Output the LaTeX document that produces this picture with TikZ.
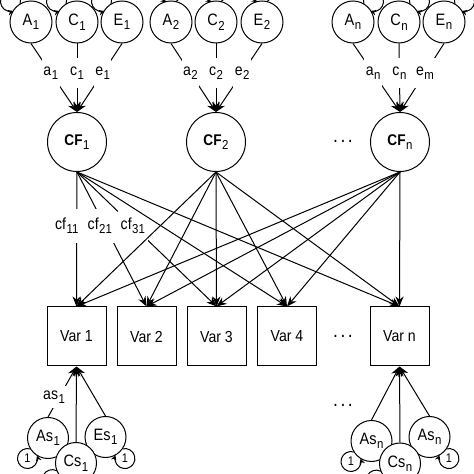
\documentclass[tikz,border=0pt]{standalone}
\usepackage{fontspec}
\setmainfont{Liberation Sans}[FakeStretch=0.88]
\usetikzlibrary{arrows.meta,calc}

\newcommand{\sbs}[1]{\kern0.5pt\raisebox{-4.5pt}{\fontsize{13}{14}\selectfont #1}}
% variance loop: node, angle, sense, name, text
\newcommand{\varloop}[5]{%
  \coordinate (#4c) at ($(#1.center)+(#2:29pt)$);
  \node[unit] (#4) at (#4c) {#5};
  \draw[selfloop] ($(#4c)+({#2+180+28*(#3)}:10pt)$)
    arc[start angle={#2+180+28*(#3)}, end angle={#2+180+332*(#3)}, radius=10pt];
}

\begin{document}
\begin{tikzpicture}[x=1pt,y=1pt,line width=1pt,
  every node/.style={inner sep=0pt,font=\fontsize{16.5}{18}\selectfont},
  lat/.style={circle,draw,minimum size=42pt},
  cf/.style={circle,draw,minimum size=59pt,font=\fontsize{15.5}{17}\selectfont\bfseries},
  var/.style={rectangle,draw,minimum size=59pt,font=\fontsize{16}{18}\selectfont},
  res/.style={circle,draw,fill=white,minimum size=41pt},
  unit/.style={font=\fontsize{12.5}{13}\selectfont},
  dots/.style={font=\fontsize{20}{21}\selectfont},
  coef/.style={fill=white,inner sep=1.5pt,minimum height=30pt,font=\fontsize{16}{18}\selectfont},
  cfl/.style={coef,pos=.4,minimum height=34pt,minimum width=30pt},
  load/.style={-{Stealth[length=10pt,width=8pt]}},
  selfloop/.style={-{Stealth[open,length=5.5pt,width=5.5pt]}}]
\useasboundingbox (0,0) rectangle (474,474);
\clip (0,0) rectangle (474,474);

% twin factors
\node[lat](A1) at (31,452){A\sbs{1}};
\node[lat](C1) at (77,452){C\sbs{1}};
\node[lat](E1) at (122,452){E\sbs{1}};
\node[lat](A2) at (171,452){A\sbs{2}};
\node[lat](C2) at (216,452){C\sbs{2}};
\node[lat](E2) at (262,452){E\sbs{2}};
\node[lat](An) at (353,452){A\sbs{n}};
\node[lat](Cn) at (399,452){C\sbs{n}};
\node[lat](En) at (444,452){E\sbs{n}};

% common factors
\node[cf](CF1) at (77,332){CF\sbs{\mdseries 1}};
\node[cf](CF2) at (216,332){CF\sbs{\mdseries 2}};
\node[cf](CFn) at (400,332){CF\sbs{\mdseries n}};
\node[dots](D1) at (343,333){.\kern2.5pt.\kern2.5pt.};

% observed variables
\node[var](V1) at (76.5,137.5){Var 1};
\node[var](V2) at (146.5,137.5){Var 2};
\node[var](V3) at (216.5,137.5){Var 3};
\node[var](V4) at (287,137.5){Var 4};
\node[var](Vn) at (399.5,137.5){Var n};
\node[dots](D2) at (343,138){.\kern2.5pt.\kern2.5pt.};
\node[dots](D3) at (343,69){.\kern2.5pt.\kern2.5pt.};

% specific factors
\node[res](As1) at (48,36){As\sbs{1}};
\node[res](Es1) at (105.5,37){Es\sbs{1}};
\node[res](Cs1) at (76,11){Cs\sbs{1}};
\node[res](Asn) at (371.5,33){As\sbs{n}};
\node[res](Asm) at (429.5,37){As\sbs{n}};
\node[res](Csn) at (400,10.5){Cs\sbs{n}};

% variance loops
\varloop{A1}{135}{1}{lA1}{}
\varloop{C1}{135}{1}{lC1}{}
\varloop{E1}{135}{1}{lE1}{}
\varloop{A2}{90}{1}{lA2}{}
\varloop{C2}{90}{1}{lC2}{}
\varloop{E2}{90}{1}{lE2}{}
\varloop{An}{45}{-1}{lAn}{}
\varloop{Cn}{45}{-1}{lCn}{}
\varloop{En}{45}{-1}{lEn}{}
\varloop{As1}{225}{1}{lAs1}{1}
\varloop{Es1}{-48}{-1}{lEs1}{1}
\varloop{Cs1}{215}{1}{lCs1}{}
\varloop{Asn}{225}{1}{lAsn}{1}
\varloop{Asm}{-48}{-1}{lAsm}{1}
\varloop{Csn}{215}{1}{lCsn}{}

% twin factors -> common factors
\draw[load](A1.south) -- node[coef,pos=.43]{a\sbs{1}} (CF1.north);
\draw[load](C1.south) -- node[coef,pos=.43]{c\sbs{1}} (CF1.north);
\draw[load](E1.south) -- node[coef,pos=.43]{e\sbs{1}} (CF1.north);
\draw[load](A2.south) -- node[coef,pos=.43]{a\sbs{2}} (CF2.north);
\draw[load](C2.south) -- node[coef,pos=.43]{c\sbs{2}} (CF2.north);
\draw[load](E2.south) -- node[coef,pos=.43]{e\sbs{2}} (CF2.north);
\draw[load](An.south) -- node[coef,pos=.43]{a\sbs{n}} (CFn.north);
\draw[load](Cn.south) -- node[coef,pos=.43]{c\sbs{n}} (CFn.north);
\draw[load](En.south) -- node[coef,pos=.43]{e\sbs{m}} (CFn.north);

% common factors -> variables
\draw[load](CF1.south) -- node[cfl,xshift=-10pt]{cf\sbs{11}} (V1.north);
\draw[load](CF1.south) -- node[cfl,xshift=-5pt]{cf\sbs{21}} (V2.north);
\draw[load](CF1.south) -- node[cfl]{cf\sbs{31}} (V3.north);
\draw[load](CF1.south) -- (V4.north);
\draw[load](CF1.south) -- (Vn.north);
\draw[load](CF2.south) -- (V1.north);
\draw[load](CF2.south) -- (V2.north);
\draw[load](CF2.south) -- (V3.north);
\draw[load](CF2.south) -- (V4.north);
\draw[load](CF2.south) -- (Vn.north);
\draw[load](CFn.south) -- (V1.north);
\draw[load](CFn.south) -- (V2.north);
\draw[load](CFn.south) -- (V3.north);
\draw[load](CFn.south) -- (V4.north);
\draw[load](CFn.south) -- (Vn.north);

% specific factors -> variables
\draw[load](As1.north) -- node[coef,pos=.39,minimum height=22pt,xshift=-5pt]{as\sbs{1}} (V1.south);
\draw[load](Cs1.north) -- (V1.south);
\draw[load](Es1.north) -- (V1.south);
\draw[load](Asn.north) -- (Vn.south);
\draw[load](Csn.north) -- (Vn.south);
\draw[load](Asm.north) -- (Vn.south);
\end{tikzpicture}
\end{document}
